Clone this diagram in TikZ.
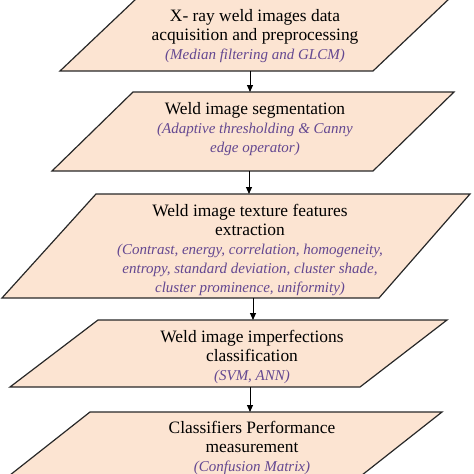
\documentclass[tikz,border=0pt]{standalone}
\usepackage{fontspec}
\setmainfont{Liberation Serif}[ItalicFont={Liberation Serif Italic}, BoldFont={Liberation Serif Bold}]
\usetikzlibrary{arrows.meta}
\definecolor{boxfill}{RGB}{252,228,210}
\definecolor{boxline}{RGB}{40,40,40}
\definecolor{subtxt}{RGB}{100,72,145}
\tikzset{
  stepshape/.style={fill=boxfill, draw=boxline, line width=1.2pt, line join=miter},
  steptext/.style={align=center, text=black, font=\fontsize{17.4}{19}\selectfont, inner sep=0pt},
  arr/.style={draw=black, line width=1pt, -{Triangle[length=7pt,width=6pt]}},
}
\newcommand{\sub}[1]{{\color{subtxt}\itshape\fontsize{15}{18.5}\selectfont #1}}
\begin{document}
\begin{tikzpicture}[x=1pt,y=-1pt]
\useasboundingbox (0,0) rectangle (474,474);
% box 1
\coordinate (a1) at (137,-2); \coordinate (a2) at (450,-2);
\coordinate (a3) at (373,71); \coordinate (a4) at (60,71);
\filldraw[stepshape] (a1) -- (a2) -- (a3) -- (a4) -- cycle;
\node[steptext] (t1) at (255,36) {X- ray weld images data\\acquisition and preprocessing\\\sub{(Median filtering and GLCM)}};
% box 2
\coordinate (b1) at (133,92); \coordinate (b2) at (454,92);
\coordinate (b3) at (373,171); \coordinate (b4) at (52,171);
\filldraw[stepshape] (b1) -- (b2) -- (b3) -- (b4) -- cycle;
\node[steptext] (t2) at (255,129) {Weld image segmentation\\\sub{(Adaptive thresholding \& Canny}\\\sub{edge operator)}};
% box 3
\coordinate (c1) at (96,194); \coordinate (c2) at (470,194);
\coordinate (c3) at (379,298); \coordinate (c4) at (2,298);
\filldraw[stepshape] (c1) -- (c2) -- (c3) -- (c4) -- cycle;
\node[steptext] (t3) at (250,250) {Weld image texture features\\extraction\\\sub{(Contrast, energy, correlation, homogeneity,}\\\sub{entropy, standard deviation, cluster shade,}\\\sub{cluster prominence, uniformity)}};
% box 4
\coordinate (d1) at (98,320); \coordinate (d2) at (447,320);
\coordinate (d3) at (360,387); \coordinate (d4) at (10,387);
\filldraw[stepshape] (d1) -- (d2) -- (d3) -- (d4) -- cycle;
\node[steptext] (t4) at (252,357) {Weld image imperfections\\classification\\\sub{(SVM, ANN)}};
% box 5
\coordinate (e1) at (90,412); \coordinate (e2) at (442,412);
\coordinate (e3) at (357,479); \coordinate (e4) at (5,479);
\filldraw[stepshape] (e1) -- (e2) -- (e3) -- (e4) -- cycle;
\node[steptext] (t5) at (252,448) {Classifiers Performance\\measurement\\\sub{(Confusion Matrix)}};
% connectors
\coordinate (s1) at (250,71);  \coordinate (n2) at (250,92);
\coordinate (s2) at (249,171); \coordinate (n3) at (249,194);
\coordinate (s3) at (253,298); \coordinate (n4) at (253,320);
\coordinate (s4) at (250,387); \coordinate (n5) at (250,412);
\draw[arr] (s1) -- (n2);
\draw[arr] (s2) -- (n3);
\draw[arr] (s3) -- (n4);
\draw[arr] (s4) -- (n5);
\end{tikzpicture}
\end{document}
